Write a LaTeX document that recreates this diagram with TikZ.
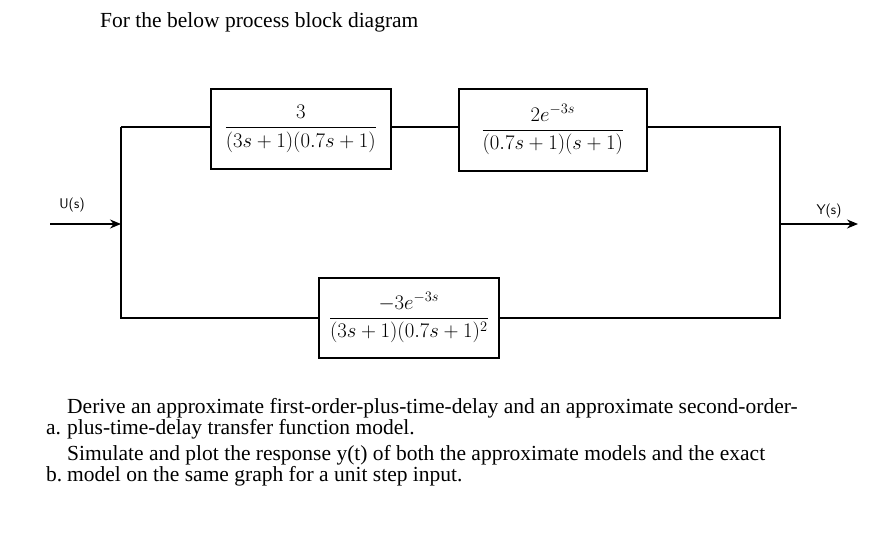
\documentclass[tikz,border=0pt]{standalone}
\usepackage{fontspec}
\setmainfont{Liberation Serif}
\usepackage{amsmath}
\usetikzlibrary{arrows.meta}
\begin{document}
\begin{tikzpicture}[x=1pt,y=-1pt,
  blk/.style={draw,line width=1.6pt,minimum width=180pt,minimum height=80pt,anchor=north west,inner sep=0pt,font=\fontsize{19.5}{21}\selectfont},
  ln/.style={line width=1.4pt},
  arr/.style={line width=1.4pt,-{Stealth[length=11pt,width=9pt]}},
  lbl/.style={font=\sffamily\fontsize{14}{16}\selectfont},
  txt/.style={font=\fontsize{21.5}{19.5}\selectfont,anchor=north west,inner sep=0pt,align=left}]
\useasboundingbox (0,0) rectangle (875,537);
\node[txt,anchor=west] (title) at (100,22) {For the below process block diagram};
\node[blk,minimum width=180pt] (b1) at (210,88) {$\dfrac{3}{(3s+1)(0.7s+1)}$};
\node[blk,minimum width=188pt,minimum height=82pt] (b2) at (458,88) {$\dfrac{2e^{-3s}}{(0.7s+1)(s+1)}$};
\node[blk,minimum width=180pt] (b3) at (318,277) {$\dfrac{-3e^{-3s}}{(3s+1)(0.7s+1)^2}$};
\coordinate (lt) at (121,127);
\coordinate (lb) at (121,318);
\coordinate (lm) at (121,224);
\coordinate (rt) at (780,127);
\coordinate (rb) at (780,318);
\coordinate (rm) at (780,224);
\coordinate (uin) at (50,224);
\coordinate (yout) at (858,224);
\draw[ln] (lt) -- (b1.west |- lt);
\draw[ln] (b1.east |- lt) -- (b2.west |- lt);
\draw[ln] (b2.east |- lt) -- (rt) -- (rb) -- (b3.east |- rb);
\draw[ln] (lt) -- (lb) -- (b3.west |- lb);
\draw[arr] (uin) -- (lm);
\draw[arr] (rm) -- (yout);
\node[lbl] (u) at (72,205) {U(s)};
\node[lbl] (y) at (829,211) {Y(s)};
\node[txt,anchor=base west] (a) at (46,434) {a.};
\node[txt,anchor=base west] (at) at (67,434) {Derive an approximate first-order-plus-time-delay and an approximate second-order-\\plus-time-delay transfer function model.};
\node[txt,anchor=base west] (b) at (46,481) {b.};
\node[txt,anchor=base west] (bt) at (67,481) {Simulate and plot the response y(t) of both the approximate models and the exact\\model on the same graph for a unit step input.};
\end{tikzpicture}
\end{document}
